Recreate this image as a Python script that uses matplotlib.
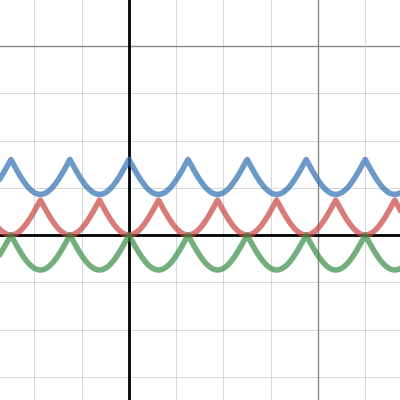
import numpy as np
import matplotlib.pyplot as plt

# view window (graph units)
x_min, x_max = -1.365, 2.868
y_min, y_max = -1.746, 2.487

period = 0.625
amp = 0.37
blue_shift = 0.8

x = np.linspace(x_min, x_max, 3000)
green = -amp * np.abs(np.sin(np.pi * x / period))
blue = green + blue_shift
red = amp * (1 - np.abs(np.cos(np.pi * x / period)))

fig = plt.figure(figsize=(4, 4), dpi=100)
ax = fig.add_axes([0, 0, 1, 1])
ax.set_xlim(x_min, x_max)
ax.set_ylim(y_min, y_max)

for v in np.arange(-1.5, 3.0, 0.5):
    lw, c = (1.0, "#888888") if v % 2 == 0 else (0.6, "#d0d0d0")
    ax.axvline(v, color=c, lw=lw, zorder=0)
    ax.axhline(v, color=c, lw=lw, zorder=0)
ax.axvline(0, color="black", lw=2, zorder=1)
ax.axhline(0, color="black", lw=2, zorder=1)

ax.plot(x, red, color="#c74440", lw=4, alpha=0.7, zorder=3)
ax.plot(x, green, color="#388c46", lw=4, alpha=0.7, zorder=3)
ax.plot(x, blue, color="#2d70b3", lw=4, alpha=0.7, zorder=3)

ax.set_xticks([])
ax.set_yticks([])
for s in ax.spines.values():
    s.set_visible(False)

fig.savefig("out.png")
